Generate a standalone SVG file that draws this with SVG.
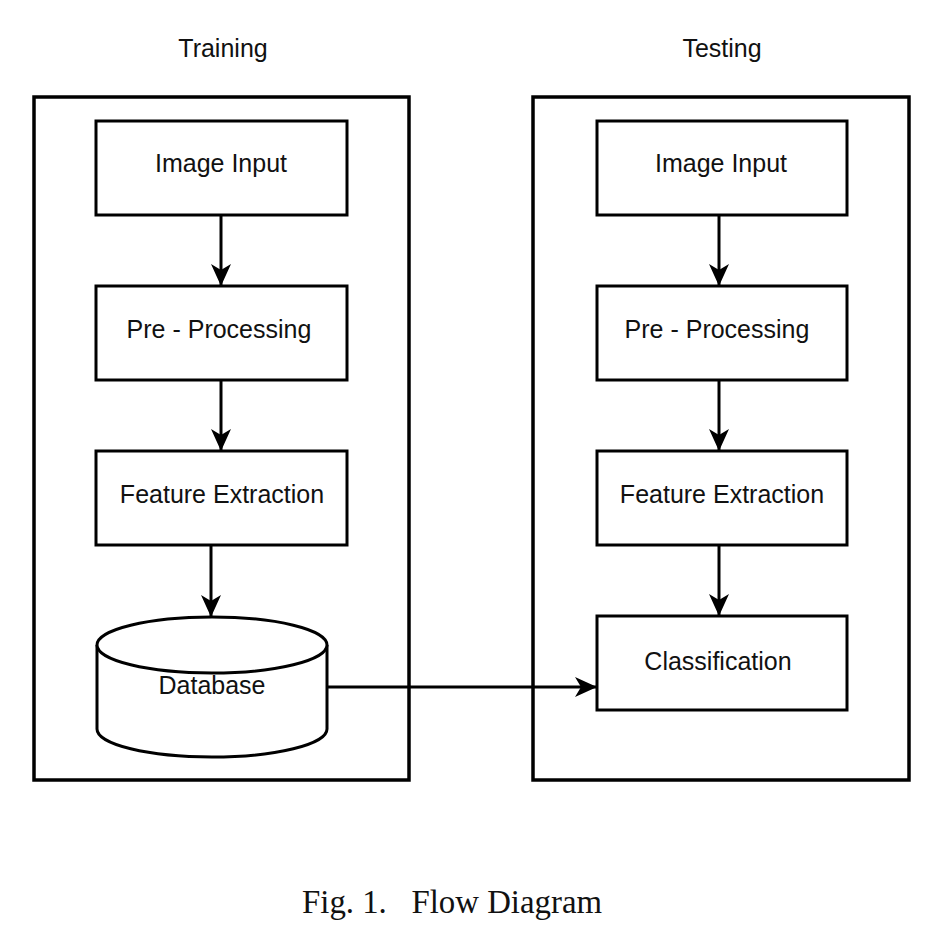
<svg xmlns="http://www.w3.org/2000/svg" width="939" height="946" viewBox="0 0 939 946">
<defs>
<marker id="ah" markerWidth="22" markerHeight="22" refX="21" refY="11" orient="auto" markerUnits="userSpaceOnUse" viewBox="0 0 22 22"><path d="M0,1 L22,11 L0,21 L6,11 Z" fill="#000"/></marker>
<style>
.f{fill:#fff;stroke:#000;stroke-width:3}
.o{fill:none;stroke:#000;stroke-width:3.5}
.t{font-family:"Liberation Sans",Arial,sans-serif;font-size:25px;text-anchor:middle;fill:#111}
.c{stroke:#000;stroke-width:3;fill:none;marker-end:url(#ah)}
</style>
</defs>
<rect width="939" height="946" fill="#fff"/>
<text class="t" x="223" y="57">Training</text>
<text class="t" x="722" y="57">Testing</text>
<rect class="o" x="34" y="97" width="375" height="683"/>
<rect class="o" x="533" y="97" width="376" height="683"/>
<g id="tr1"><rect class="f" x="96" y="121" width="251" height="94"/><text class="t" x="221" y="172">Image Input</text></g>
<g id="tr2"><rect class="f" x="96" y="286" width="251" height="94"/><text class="t" x="219" y="338">Pre - Processing</text></g>
<g id="tr3"><rect class="f" x="96" y="451" width="251" height="94"/><text class="t" x="222" y="503">Feature Extraction</text></g>
<g id="db"><path class="f" d="M97,645 L97,729 A115,28 0 0 0 327,729 L327,645"/><ellipse class="f" cx="212" cy="645" rx="115" ry="28"/><text class="t" x="212" y="694">Database</text></g>
<g id="te1"><rect class="f" x="597" y="121" width="250" height="94"/><text class="t" x="721" y="172">Image Input</text></g>
<g id="te2"><rect class="f" x="597" y="286" width="250" height="94"/><text class="t" x="717" y="338">Pre - Processing</text></g>
<g id="te3"><rect class="f" x="597" y="451" width="250" height="94"/><text class="t" x="722" y="503">Feature Extraction</text></g>
<g id="te4"><rect class="f" x="597" y="616" width="250" height="94"/><text class="t" x="718" y="670">Classification</text></g>
<g id="connectors">
<path class="c" d="M221,215 V285"/>
<path class="c" d="M221,380 V450"/>
<path class="c" d="M211,545 V616"/>
<path class="c" d="M719,215 V285"/>
<path class="c" d="M719,380 V450"/>
<path class="c" d="M719,545 V615"/>
<path class="c" d="M327,687 H596"/>
</g>
<text x="452" y="913" font-family="Liberation Serif,serif" font-size="34" text-anchor="middle" textLength="300" lengthAdjust="spacingAndGlyphs" fill="#111" xml:space="preserve">Fig. 1.   Flow Diagram</text>
</svg>
